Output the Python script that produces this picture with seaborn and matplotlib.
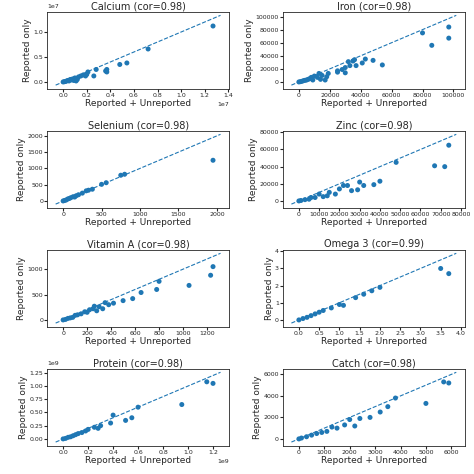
import numpy as np
import pandas as pd
import matplotlib
matplotlib.use("Agg")
import matplotlib.pyplot as plt
import seaborn as sns

titles = ["Calcium (cor=0.98)", "Iron (cor=0.98)", "Selenium (cor=0.98)", "Zinc (cor=0.98)",
          "Vitamin A (cor=0.98)", "Omega 3 (cor=0.99)", "Protein (cor=0.98)", "Catch (cor=0.98)"]

calcium_x = [1.27,0.72,0.54,0.48,0.37,0.37,0.36,0.28,0.26,0.21,0.2,0.19,0.17,0.15,0.13,0.11,0.1,0.08,0.07,0.06,0.05,0.04,0.03,0.02,0.01,0.0,0.09,0.12]
calcium_y = [1.12,0.66,0.38,0.35,0.25,0.2,0.22,0.25,0.12,0.2,0.15,0.12,0.14,0.12,0.1,0.02,0.08,0.06,0.04,0.05,0.02,0.03,0.02,0.01,0.005,0.0,0.03,0.05]
calcium_x = [v*1e7 for v in calcium_x]; calcium_y = [v*1e7 for v in calcium_y]

iron_x = [97000,97000,86000,80000,54000,48000,43000,41000,37000,36000,35000,32000,33000,30000,30000,28000,25000,25000,19000,18000,17000,15000,14000,13000,12000,10000,9000,8000,7000,6000,5000,4000,3000,2000,1000,0]
iron_y = [84000,67000,56000,75000,26000,33000,35000,29000,25000,34000,32000,31000,25000,14000,22000,19000,17000,15000,13000,8000,3000,10000,4000,13000,7000,9000,3000,7000,5000,4000,3000,2500,2000,1000,500,0]

selenium_x = [1950,800,750,560,500,380,330,300,250,200,170,130,100,80,60,40,20,0,150]
selenium_y = [1250,820,790,560,510,360,330,310,240,190,160,130,100,75,60,30,15,0,120]

zinc_x = [74000,72000,67000,48000,40000,37000,32000,30000,29000,26000,24000,22000,20000,18000,15000,14000,12000,10000,8000,6000,5000,3000,1000,0]
zinc_y = [65000,40000,41000,45000,23000,19000,18000,22000,13000,12000,18000,18000,14000,8000,10000,6000,5000,8000,4000,4000,2000,1500,500,0]

vita_x = [1250,1230,1050,800,780,650,580,500,420,380,350,330,300,280,250,220,200,180,150,120,100,80,60,40,20,0,260]
vita_y = [1050,880,680,760,600,540,420,380,330,300,340,220,260,180,220,200,150,160,120,100,90,50,40,30,10,0,270]

omega_x = [3.7,3.5,2.0,1.8,1.6,1.4,1.1,1.0,0.8,0.6,0.5,0.4,0.3,0.2,0.1,0.0]
omega_y = [2.7,3.0,1.9,1.7,1.5,1.3,0.85,0.9,0.7,0.55,0.45,0.35,0.25,0.15,0.08,0.0]

protein_x = [1.2,1.15,0.95,0.6,0.55,0.5,0.4,0.38,0.3,0.28,0.25,0.2,0.18,0.15,0.12,0.1,0.08,0.06,0.04,0.02,0.0]
protein_y = [1.05,1.08,0.65,0.6,0.4,0.35,0.45,0.3,0.25,0.2,0.22,0.18,0.15,0.12,0.1,0.08,0.06,0.04,0.03,0.01,0.0]
protein_x = [v*1e9 for v in protein_x]; protein_y = [v*1e9 for v in protein_y]

catch_x = [5900,5700,5000,3800,3500,3200,2800,2400,2200,2000,1800,1500,1300,1100,900,700,500,300,100,0]
catch_y = [5200,5300,3300,3800,3000,2500,2000,1900,1200,1800,1300,1000,1100,700,600,500,350,200,80,0]

xs = [calcium_x, iron_x, selenium_x, zinc_x, vita_x, omega_x, protein_x, catch_x]
ys = [calcium_y, iron_y, selenium_y, zinc_y, vita_y, omega_y, protein_y, catch_y]

sns.set_style("ticks")
plt.rcParams['font.family'] = ['DejaVu Sans']
fig, axes = plt.subplots(4, 2, figsize=(4.74, 4.74), dpi=100)
for ax, t, x, y in zip(axes.flat, titles, xs, ys):
    df = pd.DataFrame({"x": x, "y": y})
    sns.scatterplot(data=df, x="x", y="y", ax=ax, s=13, color="#1f77b4", edgecolor="none")
    lo, hi = min(x), max(x)
    r = hi - lo
    a, b = lo - 0.05*r, hi + 0.05*r
    ax.plot([a, b], [a, b], ls="--", lw=0.8, color="#1f77b4")
    ax.set_title(t, fontsize=7, pad=2)
    ax.set_xlabel("Reported + Unreported", fontsize=6.5, labelpad=1)
    ax.set_ylabel("Reported only", fontsize=6.5, labelpad=1)
    ax.tick_params(labelsize=4.5, length=2, pad=1)
    for s in ax.spines.values():
        s.set_linewidth(0.6)
    ax.xaxis.get_offset_text().set_fontsize(4.5)
    ax.yaxis.get_offset_text().set_fontsize(4.5)
fig.subplots_adjust(left=0.1, right=0.98, top=0.975, bottom=0.06, hspace=0.55, wspace=0.3)
fig.savefig("out.png", dpi=100)
